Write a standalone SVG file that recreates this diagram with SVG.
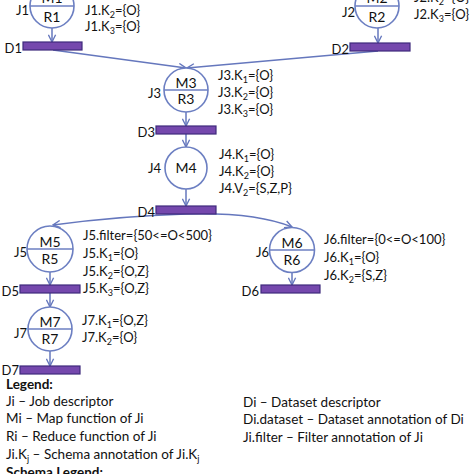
<svg xmlns="http://www.w3.org/2000/svg" width="474" height="474" viewBox="0 0 474 474">
<defs>
<style>
text{font-family:Lato,"Liberation Sans",sans-serif;font-size:13px;fill:#111}
.fn{font-size:14px;text-anchor:middle}
.jl{text-anchor:end}
.dl{text-anchor:end}
.lg{font-size:13.5px}
.b{font-weight:bold}
.job{fill:#fff;stroke:#6c7fc2;stroke-width:1.6}
.div{stroke:#6c7fc2;stroke-width:1.6}
.bar{fill:#7548ad;stroke:#3e2a7c;stroke-width:1.2}
.edge{fill:none;stroke:#6577bd;stroke-width:1.5;marker-end:url(#ah)}
</style>
<marker id="ah" viewBox="0 0 10 10" refX="9" refY="5" markerWidth="9" markerHeight="9" markerUnits="userSpaceOnUse" orient="auto">
<path d="M1,1 L9,5 L1,9" fill="none" stroke="#6577bd" stroke-width="1.5"/>
</marker>
</defs>
<rect width="474" height="474" fill="#fff"/>

<g id="connectors">
<path class="edge" d="M52,28 L52,42"/>
<path class="edge" d="M378,28 L378,43"/>
<path class="edge" d="M53,50 L186,68"/>
<path class="edge" d="M378,51 L187,68"/>
<path class="edge" d="M186,112 L186,126"/>
<path class="edge" d="M186,134 L186,147"/>
<path class="edge" d="M186,189 L186,206"/>
<path class="edge" d="M186,214 Q120,216 53,225"/>
<path class="edge" d="M186,214 Q255,212 292,227"/>
<path class="edge" d="M50,272 L50,285"/>
<path class="edge" d="M50,293 L50,307"/>
<path class="edge" d="M50,351 L50,366"/>
<path class="edge" d="M292,273 L292,285"/>
</g>

<g id="J1">
<circle class="job" cx="52" cy="6" r="22"/>
<line class="div" x1="30" y1="6" x2="74" y2="6"/>
<text class="fn" x="52" y="3">M1</text>
<text class="fn" x="52" y="22">R1</text>
<text class="jl" x="29" y="15">J1</text>
<text x="85" y="15">J1.K<tspan font-size="9" dy="3">2</tspan><tspan dy="-3">={O}</tspan></text>
<text x="85" y="31">J1.K<tspan font-size="9" dy="3">3</tspan><tspan dy="-3">={O}</tspan></text>
</g>

<g id="J2">
<circle class="job" cx="377" cy="6" r="22"/>
<line class="div" x1="355" y1="6" x2="399" y2="6"/>
<text class="fn" x="377" y="3">M2</text>
<text class="fn" x="377" y="22">R2</text>
<text class="jl" x="355" y="17">J2</text>
<text x="414" y="2">J2.K<tspan font-size="9" dy="3">2</tspan><tspan dy="-3">={O}</tspan></text>
<text x="414" y="19">J2.K<tspan font-size="9" dy="3">3</tspan><tspan dy="-3">={O}</tspan></text>
</g>

<g id="D1"><rect class="bar" x="23" y="42" width="59" height="8"/><text class="dl" x="22" y="53">D1</text></g>
<g id="D2"><rect class="bar" x="350" y="43" width="60" height="8"/><text class="dl" x="349" y="54">D2</text></g>

<g id="J3">
<circle class="job" cx="186" cy="90" r="22"/>
<line class="div" x1="164" y1="90" x2="208" y2="90"/>
<text class="fn" x="186" y="88">M3</text>
<text class="fn" x="186" y="104">R3</text>
<text class="jl" x="161" y="98">J3</text>
<text x="218" y="80">J3.K<tspan font-size="9" dy="3">1</tspan><tspan dy="-3">={O}</tspan></text>
<text x="218" y="97">J3.K<tspan font-size="9" dy="3">2</tspan><tspan dy="-3">={O}</tspan></text>
<text x="218" y="114">J3.K<tspan font-size="9" dy="3">3</tspan><tspan dy="-3">={O}</tspan></text>
</g>

<g id="D3"><rect class="bar" x="156" y="126" width="60" height="8"/><text class="dl" x="155" y="137">D3</text></g>

<g id="J4">
<circle class="job" cx="186" cy="168" r="21"/>
<text class="fn" x="186" y="173">M4</text>
<text class="jl" x="161" y="173">J4</text>
<text x="219" y="159">J4.K<tspan font-size="9" dy="3">1</tspan><tspan dy="-3">={O}</tspan></text>
<text x="219" y="176">J4.K<tspan font-size="9" dy="3">2</tspan><tspan dy="-3">={O}</tspan></text>
<text x="219" y="193">J4.V<tspan font-size="9" dy="3">2</tspan><tspan dy="-3">={S,Z,P}</tspan></text>
</g>

<g id="D4"><rect class="bar" x="156" y="206" width="60" height="8"/><text class="dl" x="155" y="217">D4</text></g>

<g id="J5">
<circle class="job" cx="50" cy="249" r="23"/>
<line class="div" x1="27" y1="249" x2="73" y2="249"/>
<text class="fn" x="50" y="247">M5</text>
<text class="fn" x="50" y="264">R5</text>
<text class="jl" x="27" y="257">J5</text>
<text x="83" y="240">J5.filter={50&lt;=O&lt;500}</text>
<text x="83" y="258">J5.K<tspan font-size="9" dy="3">1</tspan><tspan dy="-3">={O}</tspan></text>
<text x="83" y="276">J5.K<tspan font-size="9" dy="3">2</tspan><tspan dy="-3">={O,Z}</tspan></text>
<text x="83" y="293">J5.K<tspan font-size="9" dy="3">3</tspan><tspan dy="-3">={O,Z}</tspan></text>
</g>

<g id="D5"><rect class="bar" x="20" y="285" width="60" height="8"/><text class="dl" x="19" y="296">D5</text></g>

<g id="J7">
<circle class="job" cx="50" cy="329" r="22"/>
<line class="div" x1="28" y1="329" x2="72" y2="329"/>
<text class="fn" x="50" y="327">M7</text>
<text class="fn" x="50" y="344">R7</text>
<text class="jl" x="27" y="338">J7</text>
<text x="82" y="325">J7.K<tspan font-size="9" dy="3">1</tspan><tspan dy="-3">={O,Z}</tspan></text>
<text x="82" y="342">J7.K<tspan font-size="9" dy="3">2</tspan><tspan dy="-3">={O}</tspan></text>
</g>

<g id="D7"><rect class="bar" x="20" y="366" width="60" height="8"/><text class="dl" x="19" y="375">D7</text></g>

<g id="J6">
<circle class="job" cx="292" cy="250" r="22.5"/>
<line class="div" x1="269.5" y1="250" x2="314.5" y2="250"/>
<text class="fn" x="292" y="248">M6</text>
<text class="fn" x="292" y="265">R6</text>
<text class="jl" x="269" y="257">J6</text>
<text x="324" y="244">J6.filter={0&lt;=O&lt;100}</text>
<text x="324" y="262">J6.K<tspan font-size="9" dy="3">1</tspan><tspan dy="-3">={O}</tspan></text>
<text x="324" y="280">J6.K<tspan font-size="9" dy="3">2</tspan><tspan dy="-3">={S,Z}</tspan></text>
</g>

<g id="D6"><rect class="bar" x="261" y="285" width="59" height="8"/><text class="dl" x="259" y="296">D6</text></g>

<g id="legend">
<text class="b lg" x="6" y="389">Legend:</text>
<text class="lg" x="6" y="406">Ji – Job descriptor</text>
<text class="lg" x="6" y="423">Mi – Map function of Ji</text>
<text class="lg" x="6" y="441">Ri – Reduce function of Ji</text>
<text class="lg" x="6" y="459">Ji.K<tspan font-size="9" dy="3">j</tspan><tspan dy="-3"> – Schema annotation of Ji.K</tspan><tspan font-size="9" dy="3">j</tspan></text>
<text class="b lg" x="6" y="477">Schema Legend:</text>
<text class="lg" x="243" y="407">Di – Dataset descriptor</text>
<text class="lg" x="243" y="424">Di.dataset – Dataset annotation of Di</text>
<text class="lg" x="243" y="442">Ji.filter – Filter annotation of Ji</text>
</g>
</svg>
